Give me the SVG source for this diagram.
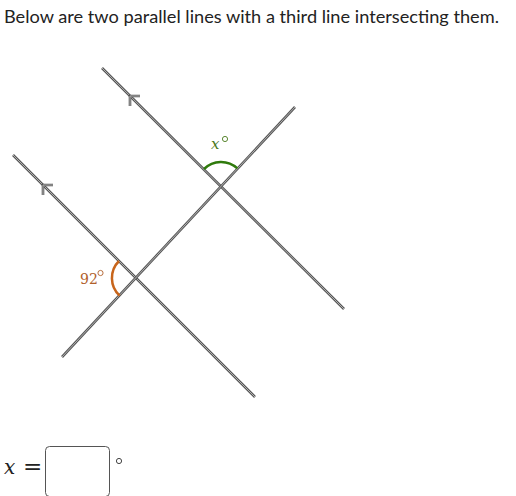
<svg xmlns="http://www.w3.org/2000/svg" width="516" height="496" viewBox="0 0 516 496">
<style>
.title{font-family:Lato,"Liberation Sans",sans-serif;font-size:18.2px;fill:#222}
.lo{stroke:#555;stroke-width:2.6;fill:none;stroke-linecap:butt}
.li{stroke:#bbb;stroke-width:0.9;fill:none}
.math{font-family:"DejaVu Serif",serif}
.it{font-style:italic}
</style>
<rect width="516" height="496" fill="#fff"/>
<text class="title" x="4" y="23">Below are two parallel lines with a third line intersecting them.</text>
<g id="connectors">
<g id="line1">
<line class="lo" x1="102" y1="68" x2="344" y2="309"/>
<line class="li" x1="102" y1="68" x2="344" y2="309"/>
<path class="lo" d="M140,96 L130,96 L130,106"/>
<path class="li" d="M140,96 L130,96 L130,106"/>
</g>
<g id="line2">
<line class="lo" x1="13" y1="155" x2="255" y2="397"/>
<line class="li" x1="13" y1="155" x2="255" y2="397"/>
<path class="lo" d="M53,185 L43,185 L43,195"/>
<path class="li" d="M53,185 L43,185 L43,195"/>
</g>
<g id="transversal">
<line class="lo" x1="62" y1="357" x2="295" y2="107"/>
<line class="li" x1="62" y1="357" x2="295" y2="107"/>
</g>
</g>
<g id="angle-x">
<path d="M204,169 A24,24 0 0 1 237.4,168.4" fill="none" stroke="#2f7a0c" stroke-width="2.5"/>
<text class="math it" x="211" y="149" font-size="15" fill="#4a7a1c">x</text>
<circle cx="225" cy="139" r="2.6" fill="none" stroke="#4a7a1c" stroke-width="0.9"/>
</g>
<g id="angle-92">
<path d="M119,261 A24,24 0 0 0 119.6,295.6" fill="none" stroke="#c8651b" stroke-width="2.5"/>
<text class="math" x="80" y="284" font-size="14" fill="#b0602a">92</text>
<circle cx="100.5" cy="273" r="2.6" fill="none" stroke="#b0602a" stroke-width="0.9"/>
</g>
<g id="answer">
<text class="math it" x="4" y="474" font-size="20" fill="#222">x</text>
<text class="math" x="23" y="474" font-size="23" fill="#222">=</text>
<rect x="45.5" y="446.5" width="64" height="50" rx="4" fill="#fff" stroke="#555" stroke-width="1"/>
<circle cx="119" cy="461" r="2.6" fill="none" stroke="#444" stroke-width="1"/>
</g>
</svg>
